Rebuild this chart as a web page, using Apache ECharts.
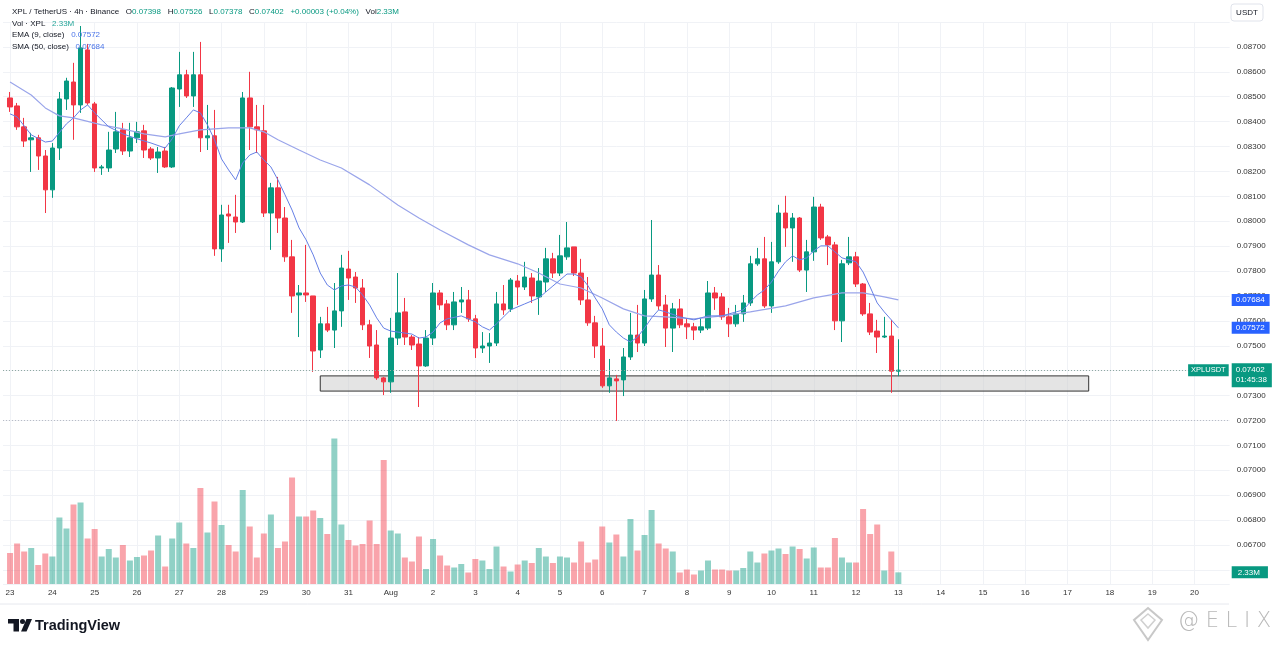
<!DOCTYPE html>
<html><head><meta charset="utf-8">
<script src="https://cdn.jsdelivr.net/npm/echarts@6/dist/echarts.min.js"></script>
<style>html,body{margin:0;padding:0;background:#fff}#c{width:1280px;height:646px}</style>
</head><body><div id="c"></div>
<script>
// ---- tick labels (one per day, 4h candles) ----
const dayLabels = ['23','24','25','26','27','28','29','30','31','Aug','2','3','4','5','6','7','8','9','10','11','12','13','14','15','16','17','18','19','20'];

// ---- XPL/USDT 4h candles ----
const open = [0.08495,0.08463,0.08379,0.08327,0.08335,0.08262,0.08126,0.08294,0.08491,0.08559,
0.08467,0.08688,0.08471,0.08214,0.08214,0.08290,0.08367,0.08282,0.08335,0.08363,
0.08290,0.08254,0.08282,0.08218,0.08531,0.08588,0.08503,0.08588,0.08335,0.08343,
0.07889,0.08029,0.08017,0.07997,0.08495,0.08379,0.08363,0.08033,0.08134,0.08013,
0.07857,0.07704,0.07712,0.07700,0.07483,0.07588,0.07563,0.07640,0.07808,0.07776,
0.07732,0.07584,0.07503,0.07371,0.07355,0.07531,0.07636,0.07535,0.07507,0.07419,
0.07531,0.07712,0.07668,0.07584,0.07676,0.07684,0.07608,0.07491,0.07499,0.07511,
0.07668,0.07648,0.07760,0.07736,0.07772,0.07696,0.07756,0.07849,0.07792,0.07857,
0.07897,0.07792,0.07684,0.07592,0.07499,0.07339,0.07367,0.07363,0.07455,0.07543,
0.07511,0.07688,0.07784,0.07664,0.07571,0.07648,0.07588,0.07576,0.07563,0.07571,
0.07712,0.07696,0.07616,0.07588,0.07628,0.07672,0.07829,0.07849,0.07660,0.07837,
0.08033,0.07973,0.08013,0.07804,0.07877,0.08057,0.07937,0.07905,0.07600,0.07833,
0.07857,0.07748,0.07628,0.07559,0.07535,0.07539,0.07398];
const high = [0.08519,0.08475,0.08415,0.08355,0.08347,0.08286,0.08314,0.08519,0.08576,0.08636,
0.08784,0.08712,0.08479,0.08226,0.08359,0.08439,0.08395,0.08395,0.08399,0.08387,
0.08298,0.08298,0.08298,0.08539,0.08680,0.08608,0.08680,0.08720,0.08467,0.08447,
0.08066,0.08066,0.08106,0.08519,0.08600,0.08467,0.08467,0.08154,0.08178,0.08057,
0.07925,0.07744,0.07905,0.07700,0.07616,0.07656,0.07752,0.07865,0.07881,0.07796,
0.07768,0.07604,0.07563,0.07375,0.07612,0.07792,0.07692,0.07543,0.07535,0.07563,
0.07752,0.07724,0.07684,0.07716,0.07736,0.07724,0.07624,0.07555,0.07551,0.07716,
0.07744,0.07772,0.07784,0.07837,0.07792,0.07812,0.07893,0.07873,0.07945,0.07997,
0.07897,0.07849,0.07776,0.07620,0.07571,0.07447,0.07383,0.07491,0.07632,0.07664,
0.07724,0.08005,0.07824,0.07704,0.07672,0.07688,0.07608,0.07592,0.07612,0.07760,
0.07736,0.07712,0.07652,0.07664,0.07704,0.07861,0.07893,0.07937,0.07917,0.08066,
0.08102,0.08033,0.08017,0.07925,0.08098,0.08070,0.07945,0.07917,0.07845,0.07937,
0.07877,0.07752,0.07672,0.07604,0.07616,0.07604,0.07526];
const low = [0.08439,0.08367,0.08298,0.08198,0.08206,0.08033,0.08094,0.08246,0.08447,0.08327,
0.08435,0.08467,0.08198,0.08186,0.08198,0.08274,0.08266,0.08258,0.08314,0.08254,
0.08246,0.08194,0.08214,0.08214,0.08459,0.08495,0.08459,0.08278,0.08286,0.07861,
0.07837,0.07913,0.07953,0.07993,0.08286,0.08274,0.08017,0.07885,0.07953,0.07837,
0.07632,0.07535,0.07676,0.07395,0.07451,0.07555,0.07491,0.07576,0.07684,0.07672,
0.07563,0.07451,0.07363,0.07302,0.07311,0.07503,0.07503,0.07483,0.07254,0.07415,
0.07503,0.07644,0.07563,0.07563,0.07632,0.07596,0.07451,0.07471,0.07431,0.07499,
0.07624,0.07636,0.07664,0.07724,0.07672,0.07624,0.07716,0.07772,0.07780,0.07845,
0.07780,0.07664,0.07580,0.07451,0.07331,0.07311,0.07198,0.07298,0.07443,0.07475,
0.07499,0.07676,0.07644,0.07495,0.07475,0.07571,0.07527,0.07523,0.07551,0.07563,
0.07644,0.07604,0.07535,0.07576,0.07596,0.07660,0.07821,0.07652,0.07632,0.07829,
0.07897,0.07837,0.07796,0.07716,0.07841,0.07925,0.07824,0.07563,0.07515,0.07824,
0.07736,0.07620,0.07543,0.07471,0.07531,0.07311,0.07378];
const close = [0.08459,0.08379,0.08322,0.08335,0.08262,0.08126,0.08294,0.08491,0.08563,0.08467,
0.08696,0.08475,0.08214,0.08218,0.08286,0.08359,0.08282,0.08335,0.08359,0.08286,
0.08254,0.08278,0.08218,0.08535,0.08588,0.08503,0.08588,0.08335,0.08343,0.07889,
0.08025,0.08021,0.07997,0.08495,0.08379,0.08367,0.08033,0.08134,0.08013,0.07857,
0.07700,0.07712,0.07704,0.07479,0.07588,0.07563,0.07640,0.07812,0.07772,0.07732,
0.07584,0.07499,0.07371,0.07355,0.07531,0.07632,0.07535,0.07503,0.07419,0.07531,
0.07712,0.07664,0.07584,0.07676,0.07684,0.07608,0.07491,0.07499,0.07511,0.07668,
0.07644,0.07764,0.07736,0.07776,0.07700,0.07760,0.07849,0.07792,0.07861,0.07893,
0.07792,0.07684,0.07592,0.07499,0.07339,0.07371,0.07359,0.07455,0.07543,0.07511,
0.07688,0.07784,0.07660,0.07571,0.07648,0.07584,0.07576,0.07563,0.07576,0.07712,
0.07692,0.07616,0.07588,0.07628,0.07672,0.07829,0.07849,0.07660,0.07837,0.08033,
0.07973,0.08013,0.07804,0.07877,0.08057,0.07933,0.07905,0.07600,0.07829,0.07857,
0.07748,0.07628,0.07555,0.07535,0.07539,0.07398,0.07402];
// volume per candle, millions of XPL
const volumeM = [6.2,8.1,6.5,7.2,3.8,6.1,5.5,13.3,11.1,15.9,16.3,9.1,11.0,5.5,7.0,5.3,7.8,4.7,5.4,5.7,
6.7,9.7,3.5,9.1,12.3,8.1,7.2,19.2,10.3,16.5,11.8,7.8,6.5,18.8,11.5,5.3,10.1,13.9,7.2,8.5,
21.3,13.5,13.5,14.7,13.2,10.0,29.1,11.9,8.8,7.7,8.0,12.7,8.0,24.8,10.7,10.1,5.3,4.5,9.5,3.0,
9.0,5.7,3.7,3.3,4.0,2.3,5.0,4.7,3.0,7.5,3.5,2.5,3.9,4.7,4.2,7.2,5.5,4.2,5.5,5.3,
4.3,8.5,4.3,4.9,11.5,8.3,9.9,5.5,13.0,6.7,9.8,14.8,8.1,7.1,6.5,2.3,2.9,1.9,2.7,4.7,
2.9,2.9,2.7,2.7,3.2,6.5,4.3,6.1,6.7,7.1,6.0,7.5,7.0,5.1,7.3,3.3,3.3,9.2,5.3,4.3,
4.3,15.0,10.0,11.9,2.7,6.5,2.33];
// EMA(9) and SMA(50): [candle index, value]
const ema9 = [[0,0.08431],[1,0.08419],[3,0.08347],[5,0.08318],[6,0.08322],[8,0.08391],[9,0.08415],[10,0.08447],[11,0.08467],[12,0.08435],[14,0.08379],[16,0.08351],[18,0.08331],[20,0.08314],[22,0.08294],[23,0.08331],[24,0.08383],[25,0.08415],[26,0.08447],[27,0.08435],[28,0.08387],[29,0.08327],[30,0.08250],[31,0.08206],[32,0.08166],[33,0.08234],[34,0.08266],[35,0.08278],[36,0.08246],[37,0.08218],[38,0.08166],[39,0.08106],[40,0.08045],[41,0.07973],[42,0.07925],[43,0.07865],[44,0.07792],[45,0.07744],[46,0.07724],[47,0.07740],[48,0.07744],[49,0.07736],[50,0.07704],[51,0.07664],[52,0.07612],[53,0.07571],[54,0.07559],[55,0.07555],[57,0.07547],[58,0.07531],[59,0.07535],[60,0.07555],[61,0.07592],[62,0.07608],[64,0.07620],[66,0.07596],[67,0.07576],[68,0.07563],[69,0.07588],[71,0.07644],[73,0.07668],[75,0.07692],[76,0.07716],[77,0.07740],[78,0.07764],[79,0.07788],[80,0.07788],[81,0.07776],[82,0.07740],[83,0.07692],[84,0.07648],[85,0.07584],[86,0.07555],[87,0.07531],[88,0.07515],[89,0.07535],[90,0.07571],[91,0.07612],[92,0.07644],[93,0.07636],[95,0.07616],[97,0.07604],[99,0.07620],[101,0.07620],[103,0.07636],[104,0.07644],[105,0.07676],[106,0.07704],[107,0.07724],[108,0.07756],[109,0.07800],[110,0.07837],[111,0.07861],[112,0.07845],[113,0.07853],[114,0.07881],[115,0.07901],[116,0.07901],[117,0.07877],[118,0.07853],[119,0.07845],[120,0.07837],[121,0.07796],[122,0.07736],[123,0.07672],[124,0.07636],[125,0.07604],[126,0.07572]];
const sma50 = [[0,0.08559],[3,0.08507],[5,0.08455],[7,0.08423],[9,0.08415],[13,0.08387],[16,0.08371],[19,0.08351],[22,0.08339],[24,0.08351],[27,0.08367],[31,0.08375],[34,0.08375],[36,0.08359],[38,0.08327],[41,0.08286],[44,0.08246],[47,0.08214],[51,0.08146],[55,0.08065],[58,0.08013],[61,0.07965],[65,0.07905],[68,0.07865],[72,0.07829],[75,0.07792],[78,0.07748],[81,0.07732],[84,0.07692],[87,0.07648],[90,0.07620],[93,0.07616],[97,0.07608],[101,0.07620],[105,0.07636],[110,0.07660],[114,0.07692],[118,0.07712],[121,0.07712],[124,0.07696],[126,0.07684]];

// ---- annotations ----
const lastPrice = 0.07402, emaLast = 0.07572, smaLast = 0.07684, lastVol = 2.33;
const countdown = '01:45:38';
const zoneTop = 0.07379, zoneBottom = 0.07318, zoneFrom = 44, zoneTo = 153;
const levelLine = 0.0720;

// ---- build ----
const PAD_LEFT = 1, TOTAL = 175;
const cats = Array.from({length: TOTAL}, (_, k) => String(k));
const isDay = k => k >= PAD_LEFT && (k - PAD_LEFT) % 6 === 0;
const UP = '#089981', DOWN = '#f23645', BLUE = '#2962ff';
const CLEAR = 'rgba(0,0,0,0)';
const candleData = ['-'].concat(open.map((o, i) => [o, close[i], low[i], high[i]]));
const volData = ['-'].concat(volumeM.map((v, i) => ({value: v, itemStyle: {color: close[i] >= open[i] ? 'rgba(8,153,129,0.45)' : 'rgba(242,54,69,0.45)'}})));
const shift = arr => arr.map(([i, v]) => [i + PAD_LEFT, v]);
const FONT = 'Liberation Sans, Arial, sans-serif';
const txt = '#131722';
const tag = (bg, extra) => Object.assign({show: true, position: 'end', distance: 2, backgroundColor: bg, color: '#fff',
  fontSize: 8, padding: [2, 5, 2, 4], fontFamily: FONT}, extra || {});

const chart = echarts.init(document.getElementById('c'), null, {renderer: 'canvas'});
chart.setOption({
  animation: false,
  backgroundColor: '#ffffff',
  textStyle: {fontFamily: FONT},
  grid: [
    {left: 3, top: 22, width: 1226.7, height: 562},
    {left: 3, top: 420, width: 1226.7, height: 164}
  ],
  xAxis: [
    {type: 'category', gridIndex: 0, data: cats, boundaryGap: false,
     axisLine: {show: false}, axisTick: {show: false}, axisLabel: {show: false},
     splitLine: {show: true, interval: (idx) => isDay(idx), lineStyle: {color: '#f0f2f6', width: 1}}},
    {type: 'category', gridIndex: 1, data: cats, boundaryGap: false,
     axisLine: {show: false}, axisTick: {show: false}, splitLine: {show: false},
     axisLabel: {show: true, interval: (idx) => isDay(idx), margin: 5, fontSize: 8, color: '#333',
       formatter: (v, idx) => isDay(idx) ? (dayLabels[(idx - PAD_LEFT) / 6] || '') : ''}}
  ],
  yAxis: [
    {type: 'value', gridIndex: 0, position: 'right', min: 0.065434, max: 0.088, splitNumber: 22, scale: true,
     axisLine: {show: false}, axisTick: {show: false},
     axisLabel: {fontSize: 8, color: '#333', margin: 7, showMinLabel: false, showMaxLabel: false,
       formatter: v => v.toFixed(5)},
     splitLine: {lineStyle: {color: '#f0f2f6', width: 1}}},
    {type: 'value', gridIndex: 1, min: 0, max: 32.8, show: false}
  ],
  series: [
    {type: 'line', name: 'SMA', xAxisIndex: 0, yAxisIndex: 0, data: shift(sma50), showSymbol: false, z: 3,
     lineStyle: {color: '#9aa5ea', width: 1.2}, connectNulls: true},
    {type: 'line', name: 'EMA', xAxisIndex: 0, yAxisIndex: 0, data: shift(ema9), showSymbol: false, z: 3,
     lineStyle: {color: '#6680e6', width: 1}, connectNulls: true},
    {type: 'candlestick', xAxisIndex: 0, yAxisIndex: 0, data: candleData, barWidth: 5, z: 2,
     itemStyle: {color: UP, color0: DOWN, borderColor: UP, borderColor0: DOWN, borderWidth: 1},
     markArea: {silent: true, itemStyle: {color: 'rgba(205,205,205,0.55)', borderColor: '#333', borderWidth: 1},
       data: [[{xAxis: String(zoneFrom + PAD_LEFT), yAxis: zoneTop}, {xAxis: String(zoneTo + PAD_LEFT), yAxis: zoneBottom}]]},
     markLine: {silent: true, symbol: 'none', precision: 5, animation: false, z: 20,
       data: [
         {yAxis: levelLine, lineStyle: {color: '#b8bcc6', type: [1, 2], width: 1}, label: {show: false}},
         {yAxis: lastPrice, lineStyle: {color: '#8fa9a2', type: [1, 2], width: 1},
          label: tag(UP, {offset: [0, 5], formatter: lastPrice.toFixed(5) + '\n' + countdown, lineHeight: 10})},
         {yAxis: lastPrice, lineStyle: {color: CLEAR, width: 1},
          label: {show: true, position: 'insideEndTop', distance: [1, 0], verticalAlign: 'middle', align: 'right',
            formatter: 'XPLUSDT', backgroundColor: UP, color: '#fff', fontSize: 7.5, padding: [2, 3, 2, 3], fontFamily: FONT}},
         {yAxis: smaLast, lineStyle: {color: CLEAR, width: 1}, label: tag(BLUE, {formatter: smaLast.toFixed(5)})},
         {yAxis: emaLast, lineStyle: {color: CLEAR, width: 1}, label: tag(BLUE, {formatter: emaLast.toFixed(5)})}
       ]}},
    {type: 'bar', name: 'Vol', xAxisIndex: 1, yAxisIndex: 1, data: volData, barWidth: 6, z: 1,
     markLine: {silent: true, symbol: 'none', precision: 5, z: 20, data: [{yAxis: lastVol, lineStyle: {color: CLEAR, width: 1},
       label: tag(UP, {formatter: lastVol.toFixed(2) + 'M', padding: [2, 8, 2, 6]})}]}}
  ],
  graphic: [
    {type: 'text', left: 12, top: 6, z: 100, style: {
      text: '{t|XPL / TetherUS · 4h · Binance}  {t|O}{g|' + open[126].toFixed(5) + '}  {t|H}{g|' + high[126].toFixed(5) +
            '}  {t|L}{g|' + low[126].toFixed(5) + '}  {t|C}{g|' + close[126].toFixed(5) + '}  {g|+0.00003 (+0.04%)}  {t|Vol}{g|' + lastVol.toFixed(2) + 'M}',
      rich: {t: {fontSize: 8, fill: txt, fontFamily: FONT}, g: {fontSize: 8, fill: UP, fontFamily: FONT}}}},
    {type: 'text', left: 12, top: 18, z: 100, style: {text: '{t|Vol · XPL}  {v|' + lastVol.toFixed(2) + 'M}',
      rich: {t: {fontSize: 8, fill: txt, fontFamily: FONT}, v: {fontSize: 8, fill: '#26a69a', fontFamily: FONT}}}},
    {type: 'text', left: 12, top: 29, z: 100, style: {text: '{t|EMA (9, close)}  {v|' + emaLast.toFixed(5) + '}',
      rich: {t: {fontSize: 8, fill: txt, fontFamily: FONT}, v: {fontSize: 8, fill: '#4a74e8', fontFamily: FONT}}}},
    {type: 'text', left: 12, top: 41, z: 100, style: {text: '{t|SMA (50, close)}  {v|' + smaLast.toFixed(5) + '}',
      rich: {t: {fontSize: 8, fill: txt, fontFamily: FONT}, v: {fontSize: 8, fill: '#4a74e8', fontFamily: FONT}}}},
    // USDT currency box
    {type: 'rect', z: 100, shape: {x: 1231, y: 4, width: 32, height: 17, r: 3}, style: {fill: '#fff', stroke: '#e0e3eb', lineWidth: 1}},
    {type: 'text', z: 101, x: 1247, y: 12.5, style: {text: 'USDT', fontSize: 8, fill: txt, align: 'center', verticalAlign: 'middle', fontFamily: FONT}},
    // bottom separator
    {type: 'line', shape: {x1: 0, y1: 604, x2: 1229, y2: 604}, style: {stroke: '#e6e8ee', lineWidth: 1}},
    // TradingView logo
    {type: 'rect', shape: {x: 8, y: 619, width: 11, height: 4.5}, style: {fill: txt}},
    {type: 'rect', shape: {x: 13.5, y: 619, width: 5.5, height: 12.5}, style: {fill: txt}},
    {type: 'circle', shape: {cx: 22.5, cy: 621.5, r: 2.5}, style: {fill: txt}},
    {type: 'polygon', shape: {points: [[21, 631.5], [26.5, 619], [32, 619], [26.5, 631.5]]}, style: {fill: txt}},
    {type: 'text', x: 35, y: 625.5, style: {text: 'TradingView', fontSize: 14.5, fontWeight: 'bold', fill: txt, verticalAlign: 'middle', fontFamily: FONT}},
    // watermark
    {type: 'polygon', shape: {points: [[1148, 608], [1162, 620], [1148, 640], [1134, 620]]}, style: {fill: 'none', stroke: '#c8c8c8', lineWidth: 2}},
    {type: 'polygon', shape: {points: [[1148, 614], [1155, 620], [1148, 628], [1141, 620]]}, style: {fill: 'none', stroke: '#d0d0d0', lineWidth: 1.5}},
    {type: 'text', x: 1178, y: 622, style: {text: '@ E L I X', fontSize: 21, fill: '#b9b9b9', verticalAlign: 'middle', fontFamily: 'DejaVu Sans, sans-serif', fontWeight: 300}}
  ]
});
</script>
</body></html>
